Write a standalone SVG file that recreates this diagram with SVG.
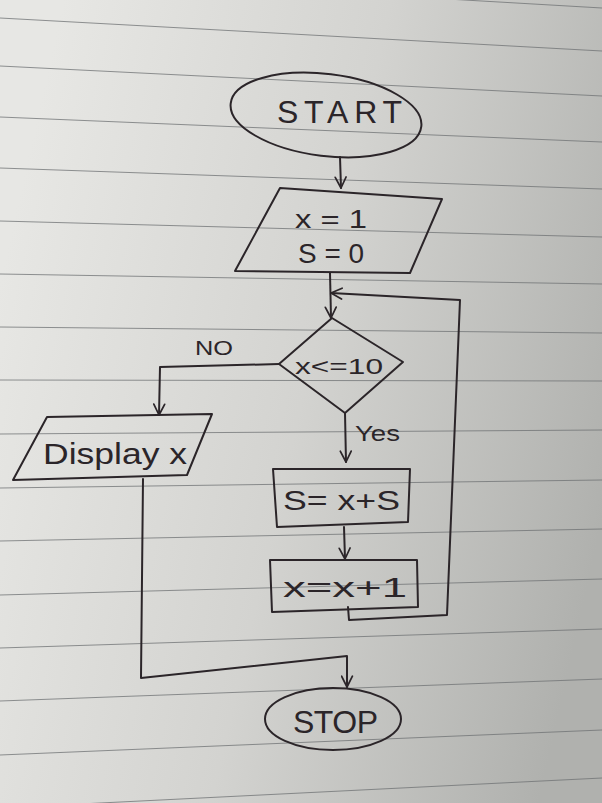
<svg xmlns="http://www.w3.org/2000/svg" width="602" height="803" viewBox="0 0 602 803">
  <defs>
    <linearGradient id="paper" x1="0" y1="0.35" x2="1" y2="0.65">
      <stop offset="0" stop-color="#e7e7e4"/>
      <stop offset="0.5" stop-color="#d3d3d0"/>
      <stop offset="1" stop-color="#b0b1ae"/>
    </linearGradient>
    <marker id="arr" viewBox="0 0 12 12" refX="11" refY="6" markerWidth="13" markerHeight="13" markerUnits="userSpaceOnUse" orient="auto">
      <path d="M1,1 L11,6 L1,11" fill="none" stroke="#2b2529" stroke-width="1.6" stroke-linecap="round" stroke-linejoin="round"/>
    </marker>
  </defs>
  <style>
    .ink { fill: none; stroke: #2b2529; stroke-width: 2; stroke-linejoin: round; stroke-linecap: round; }
    .rule { stroke: #6e7173; stroke-width: 1; opacity: 0.75; }
    .t { font-family: "Liberation Sans", "DejaVu Sans", sans-serif; fill: #2b2529; text-anchor: start; }
  </style>

  <g id="paper-bg">
    <rect x="0" y="0" width="602" height="803" fill="url(#paper)"/>
    <line class="rule" x1="0" y1="-27" x2="602" y2="8"/>
    <line class="rule" x1="0" y1="18" x2="602" y2="51"/>
    <line class="rule" x1="0" y1="66" x2="602" y2="96"/>
    <line class="rule" x1="0" y1="117" x2="602" y2="142"/>
    <line class="rule" x1="0" y1="168" x2="602" y2="189"/>
    <line class="rule" x1="0" y1="221" x2="602" y2="237"/>
    <line class="rule" x1="0" y1="274" x2="602" y2="284"/>
    <line class="rule" x1="0" y1="327" x2="602" y2="333"/>
    <line class="rule" x1="0" y1="380" x2="602" y2="381"/>
    <line class="rule" x1="0" y1="434" x2="602" y2="430"/>
    <line class="rule" x1="0" y1="488" x2="602" y2="480"/>
    <line class="rule" x1="0" y1="541" x2="602" y2="529"/>
    <line class="rule" x1="0" y1="595" x2="602" y2="579"/>
    <line class="rule" x1="0" y1="648" x2="602" y2="629"/>
    <line class="rule" x1="0" y1="701" x2="602" y2="679"/>
    <line class="rule" x1="0" y1="755" x2="602" y2="730"/>
    <line class="rule" x1="0" y1="808" x2="602" y2="778"/>
  </g>

  <g id="connectors">
    <path class="ink" d="M340,157 L341,188" marker-end="url(#arr)"/>
    <path class="ink" d="M330,273 L331,318" marker-end="url(#arr)"/>
    <path class="ink" d="M348,607 L349,620 L447,615 L460,300 L331,293" marker-end="url(#arr)"/>
    <path class="ink" d="M279,364 L160,367 L159,415" marker-end="url(#arr)"/>
    <path class="ink" d="M345,413 L346,462" marker-end="url(#arr)"/>
    <path class="ink" d="M344,527 L345,559" marker-end="url(#arr)"/>
    <path class="ink" d="M143,479 L141,678 L347,656 L347,687" marker-end="url(#arr)"/>
    <text class="t" x="195" y="355" font-size="21" textLength="38" lengthAdjust="spacingAndGlyphs">NO</text>
    <text class="t" x="355" y="441" font-size="22" textLength="45" lengthAdjust="spacingAndGlyphs">Yes</text>
  </g>

  <g id="start">
    <ellipse class="ink" cx="326" cy="115" rx="96" ry="41" transform="rotate(7 326 115)"/>
    <text class="t" x="277" y="123" font-size="32" textLength="125" lengthAdjust="spacing">START</text>
  </g>

  <g id="init">
    <polygon class="ink" points="280,188 442,199 410,273 235,271"/>
    <text class="t" x="295" y="228" font-size="25" textLength="72" lengthAdjust="spacingAndGlyphs">x = 1</text>
    <text class="t" x="298" y="263" font-size="28" textLength="66" lengthAdjust="spacingAndGlyphs">S = 0</text>
  </g>

  <g id="decision">
    <polygon class="ink" points="332,318 403,362 345,413 279,364"/>
    <text class="t" x="295" y="374" font-size="22" textLength="88" lengthAdjust="spacingAndGlyphs">x&lt;=10</text>
  </g>

  <g id="display">
    <polygon class="ink" points="47,417 212,414 187,475 13,480"/>
    <text class="t" x="43" y="464" font-size="30" textLength="144" lengthAdjust="spacingAndGlyphs">Display x</text>
  </g>

  <g id="sum">
    <polygon class="ink" points="273,469 410,469 408,522 277,527"/>
    <text class="t" x="283" y="510" font-size="28" textLength="117" lengthAdjust="spacingAndGlyphs">S= x+S</text>
  </g>

  <g id="incr">
    <polygon class="ink" points="270,560 417,560 418,607 272,612"/>
    <text class="t" x="283" y="597" font-size="28" textLength="124" lengthAdjust="spacingAndGlyphs">x=x+1</text>
  </g>

  <g id="stop">
    <ellipse class="ink" cx="333" cy="719" rx="68" ry="31"/>
    <text class="t" x="293" y="733" font-size="32" textLength="85" lengthAdjust="spacing">STOP</text>
  </g>
</svg>
